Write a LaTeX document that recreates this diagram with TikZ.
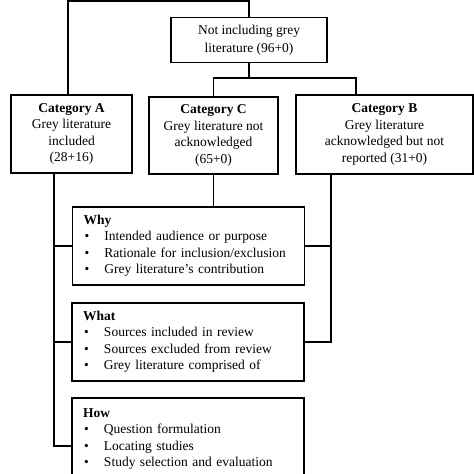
\documentclass[tikz,border=0pt]{standalone}
\usepackage{fontspec}
\setmainfont{Liberation Serif}
\newcommand{\bitem}[1]{\makebox[21pt][l]{\hspace{1pt}\textbullet}#1}
\begin{document}
\begin{tikzpicture}[x=1pt,y=-1pt,
  box/.style={draw, line width=1.3pt, inner sep=0pt, align=center,
    font=\fontsize{13.5}{16.5}\selectfont},
  listbox/.style={draw, line width=1.3pt, inner ysep=0pt, inner xsep=11pt,
    text width=210pt, align=left, minimum width=232pt,
    font=\fontsize{13.5}{16.5}\selectfont},
  conn/.style={line width=1.9pt}]
\useasboundingbox (0,0) rectangle (474,474);
\fill[white] (0,0) rectangle (474,474);

\node[box, minimum width=156pt, minimum height=45pt,
  font=\fontsize{13.5}{18}\selectfont] (top) at (249,40)
  {Not including grey\\literature (96+0)};
\node[box, minimum width=121pt, minimum height=78pt] (A) at (71.5,134)
  {\textbf{Category A}\\Grey literature\\included\\(28+16)};
\node[box, minimum width=129pt, minimum height=77pt] (C) at (213.5,135.5)
  {\textbf{Category C}\\Grey literature not\\acknowledged\\(65+0)};
\node[box, minimum width=177pt, minimum height=79pt] (B) at (384.5,134.5)
  {\textbf{Category B}\\Grey literature\\acknowledged but not\\reported (31+0)};

\node[listbox, minimum height=78pt] (why) at (188.5,246)
  {\textbf{Why}\\\bitem{Intended audience or purpose}\\\bitem{Rationale for inclusion/exclusion}\\\bitem{Grey literature's contribution}};
\node[listbox, minimum height=78pt] (what) at (188,342)
  {\textbf{What}\\\bitem{Sources included in review}\\\bitem{Sources excluded from review}\\\bitem{Grey literature comprised of}};
\node[listbox, minimum height=96pt] (how) at (188,446)
  {\textbf{How}\\\bitem{Question formulation}\\\bitem{Locating studies}\\\bitem{Study selection and evaluation}\\\mbox{}};

\coordinate (tl) at (68,1);
\coordinate (tr) at (249,1);
\draw[conn] (A.north -| tl) -- (tl) -- (tr) -- (top.north);

\coordinate (j) at (249,78);
\coordinate (cj) at (213.5,78);
\coordinate (bj) at (356,78);
\draw[conn] (top.south) -- (j);
\draw[conn] (C.north) -- (cj) -- (bj) -- (B.north -| bj);

\draw[conn] (C.south) -- (C.south |- why.north);

\coordinate (lv) at (54,446);
\draw[conn] (A.south -| lv) -- (lv |- how.west) -- (how.west);
\draw[conn] (lv |- why.west) -- (why.west);
\draw[conn] (lv |- what.west) -- (what.west);

\coordinate (rv) at (331,342);
\draw[conn] (B.south -| rv) -- (rv |- what.east) -- (what.east);
\draw[conn] (why.east) -- (why.east -| rv);
\end{tikzpicture}
\end{document}
